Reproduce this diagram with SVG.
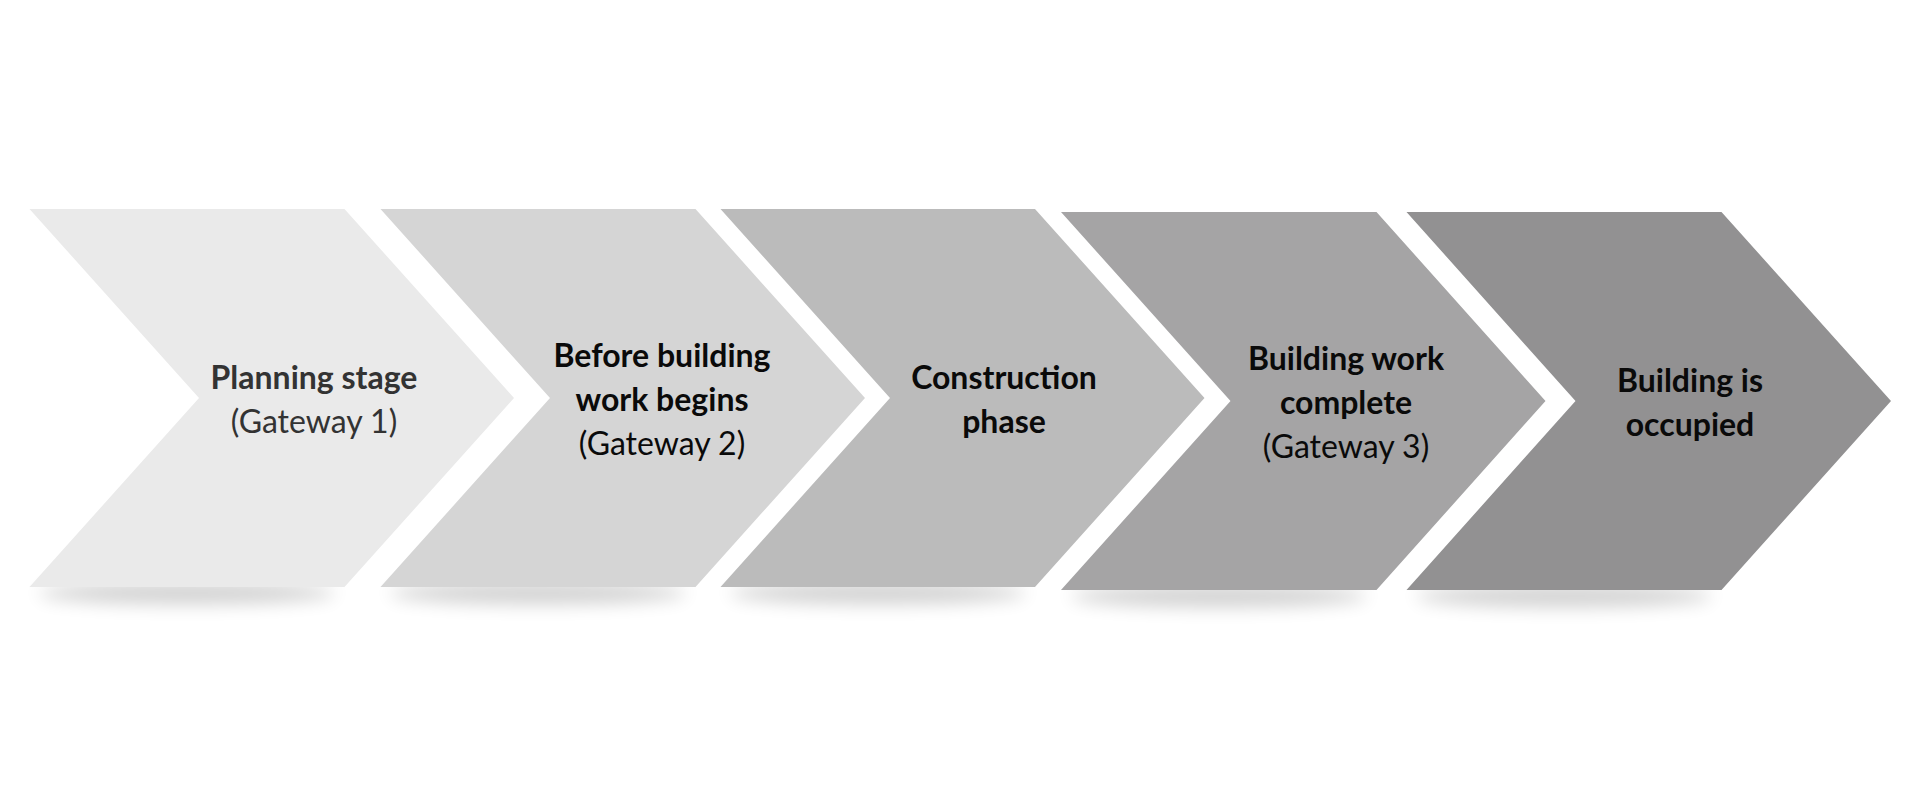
<svg xmlns="http://www.w3.org/2000/svg" width="1920" height="800" viewBox="0 0 1920 800">
<defs>
<filter id="sh" x="-20%" y="-300%" width="140%" height="700%"><feGaussianBlur stdDeviation="9"/></filter>
</defs>
<style>
.t{font-family:Lato,"Open Sans","Liberation Sans",sans-serif;font-size:32px;text-anchor:middle;fill:#0a0a0a}
.b{font-weight:bold}
.g{fill:#333}
.shadow{fill:#000;opacity:0.18;filter:url(#sh)}
</style>
<rect width="1920" height="800" fill="#fff"/>
<g id="connectors"/>
<g id="n1">
<ellipse class="shadow" cx="187" cy="593" rx="148" ry="11"/>
<polygon points="29.5,209 344.5,209 514,398 344.5,587 29.5,587 199,398" fill="#eaeaea"/>
<text class="t b g" x="314" y="389">Planning stage</text>
<text class="t g" x="314" y="433">(Gateway 1)</text>
</g>
<g id="n2">
<ellipse class="shadow" cx="538" cy="593" rx="148" ry="11"/>
<polygon points="380.5,209 695.5,209 865,398 695.5,587 380.5,587 550,398" fill="#d5d5d5"/>
<text class="t b" x="662" y="367">Before building</text>
<text class="t b" x="662" y="411">work begins</text>
<text class="t" x="662" y="455">(Gateway 2)</text>
</g>
<g id="n3">
<ellipse class="shadow" cx="878" cy="593" rx="148" ry="11"/>
<polygon points="720.5,209 1035,209 1204.5,398 1035,587 720.5,587 890,398" fill="#bbbbbb"/>
<text class="t b" x="1004" y="389">Construction</text>
<text class="t b" x="1004" y="433">phase</text>
</g>
<g id="n4">
<ellipse class="shadow" cx="1219" cy="596" rx="148" ry="11"/>
<polygon points="1061,212 1376.5,212 1545.5,401 1376.5,590 1061,590 1230.5,401" fill="#a5a4a5"/>
<text class="t b" x="1346" y="370">Building work</text>
<text class="t b" x="1346" y="414">complete</text>
<text class="t" x="1346" y="458">(Gateway 3)</text>
</g>
<g id="n5">
<ellipse class="shadow" cx="1564" cy="596" rx="148" ry="11"/>
<polygon points="1406.5,212 1721.5,212 1891,401 1721.5,590 1406.5,590 1575.5,401" fill="#929192"/>
<text class="t b" x="1690" y="392">Building is</text>
<text class="t b" x="1690" y="436">occupied</text>
</g>
</svg>
